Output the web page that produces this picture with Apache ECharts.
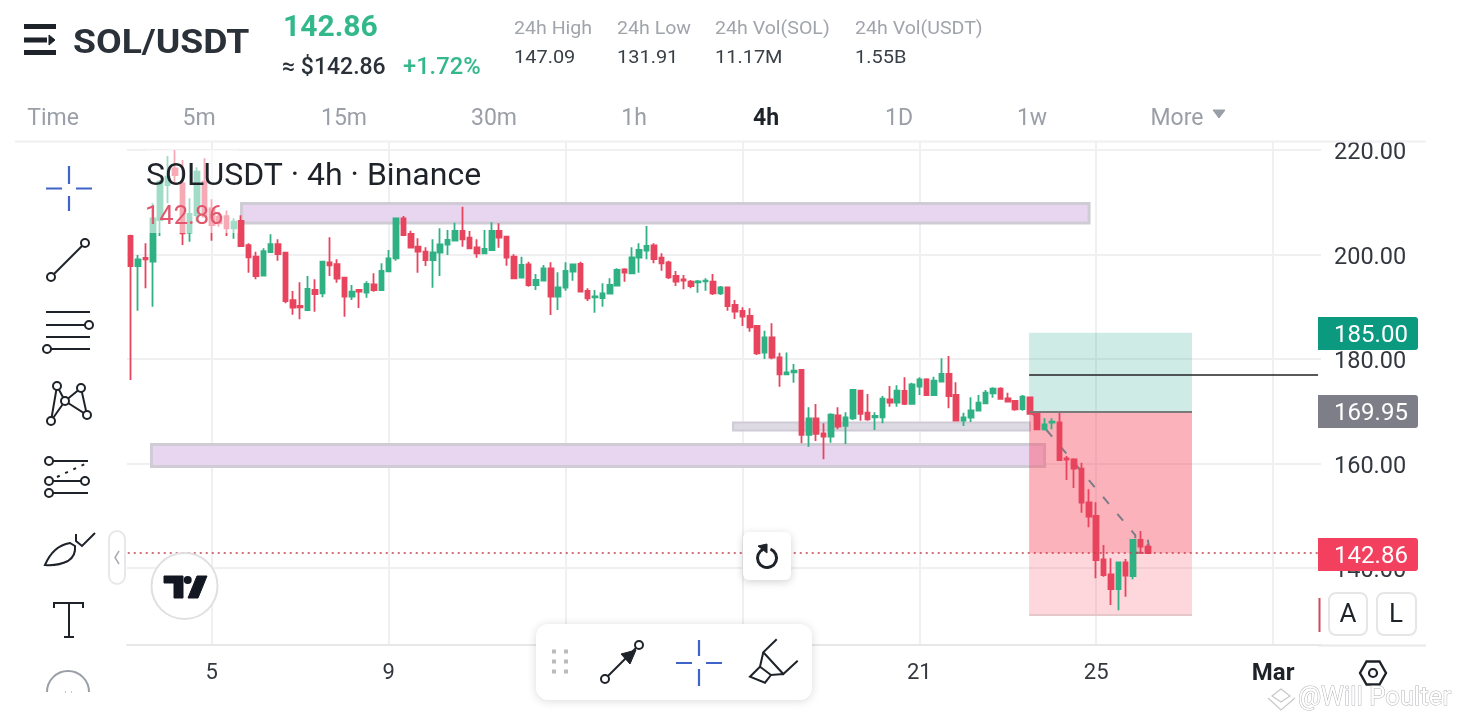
<!DOCTYPE html>
<html>
<head>
<meta charset="utf-8">
<title>SOL/USDT</title>
<script src="https://cdn.jsdelivr.net/npm/echarts@6/dist/echarts.min.js"></script>
<style>
html, body { margin: 0; padding: 0; background: #fff; }
#main { width: 1462px; height: 720px; }
</style>
</head>
<body>
<div id="main"></div>
<script>
// 4h candles
var opens = [203.54,197.79,199.33,198.62,206.6,213.3,216.49,213.62,204.17,207.55,
    213.93,208.83,207.24,207.36,205,206.41,201.81,199.58,195.94,200.47,
    202,200.35,191.28,190.14,189.37,193.2,192.56,198.5,198.17,195.56,
    191.92,193.2,192.69,194.28,193.2,196.77,199.26,206.92,203.92,201.49,
    200.54,198.94,200.35,201.88,202.65,204.5,203.22,201.37,200.22,200.86,
    204.5,203.41,199.58,195.56,198.12,194.16,194.99,197.35,191.93,193.65,
    196.71,198.18,193.01,191.8,191.67,192.5,194.03,197.16,196.39,199.39,
    200.73,201.75,199.39,198.5,195.88,195.25,194.8,194.67,194.86,194.8,
    192.57,193.71,190.33,189.18,188.23,186.31,181.21,184.14,180.32,177.07,
    177.45,177.9,165.46,168.65,165.78,165.14,169.22,167.18,168.65,173.94,
    169.73,168.84,168.84,172.28,171.63,173.88,171.39,174.71,176.11,173.11,
    175.67,177.13,173.11,168.2,168.77,170.11,171.52,173.43,174.33,172.48,
    171.96,170.43,172.67,169.48,166.54,167.82,167.88,160.99,160.8,159,
    152.57,149.95,141.66,138.79,135.98,141.09,138.47,145.36,144.08];
var closes = [197.79,199.07,199.07,206.92,213.93,214.89,215.2,204.05,207.75,215.85,
    207.24,205.64,205.96,205,206.28,201.62,199.45,195.88,200.66,202,
    200.09,191.09,189.82,189.88,193.39,192.43,198.62,197.92,195.37,191.92,
    192.88,192.88,194.35,193.2,196.84,199.26,206.92,203.73,201.3,200.54,
    198.94,200.41,201.94,202.77,204.5,202.9,201.18,200.22,201.05,204.5,
    203.22,199.39,195.44,197.99,194.16,195.12,197.35,191.93,193.71,196.84,
    198.12,192.88,191.61,192,192.57,194.16,197.03,196.52,199.46,200.86,
    201.63,199.14,198.31,195.63,194.8,194.99,193.97,194.86,194.99,192.57,
    193.71,190.14,189.06,188.1,186.06,181.08,184.14,180.25,177.06,177.45,
    177.77,165.46,168.65,165.65,165.14,169.35,167.05,168.84,174.07,169.48,
    168.46,169.09,172.41,171.63,173.94,171.39,175.15,176.11,173.11,175.86,
    177.13,172.92,168.2,168.84,170.18,171.65,173.56,174.33,172.35,171.84,
    170.37,172.79,169.48,166.54,167.5,168,160.67,160.74,159,152.51,
    149.83,141.53,138.66,135.98,141.09,138.53,145.36,144.08,142.86];
var lows = [175.97,189.24,193.52,190.01,203.54,209.79,213.6,201.81,202.45,206.28,
    207.1,202.64,205.3,203.54,203.02,201.49,196.52,195.24,195.94,200.35,
    198.81,190.65,188.48,187.59,189.24,189.05,191.8,195.88,194.6,188.1,
    191.29,189.75,191.73,192.88,193.2,196.71,198.81,203.73,201.3,196.52,
    197.79,193.65,195.88,199.9,202.65,201.5,201.05,199.39,200.03,200.86,
    201.31,197.86,195.25,195.56,193.84,193.2,194.99,188.42,189.38,193.08,
    194.99,192.88,191.1,188.87,190.01,192.5,194.03,194.8,196.27,196.52,
    199.07,198.31,196.9,195.31,193.97,193.33,193.52,192.69,193.08,192.25,
    192.25,189.25,187.65,186.33,185.23,180.76,180,179.93,174.7,177.07,
    175.47,163.86,163.22,164.31,160.8,163.99,166.54,163.73,168.33,168.2,
    168.2,166.41,167.69,170.88,170.88,171.2,171.26,173.11,172.92,173.11,
    175.67,170.56,168.2,167.18,167.95,170.11,171.39,172.6,172.28,171.77,
    170.11,170.11,169.35,166.54,166.29,166.54,160.54,156.84,155.31,150.59,
    147.78,138.02,138.34,132.92,131.91,134.51,137.83,142.68,142.8];
var highs = [203.8,199.9,202.13,209.79,214.25,218.85,220,218.08,210.75,216.68,
    218.4,210.55,208.2,208.4,206.92,207.49,202.13,200.54,201.18,203.85,
    202.9,200.54,193,194.67,195.88,195.24,198.75,203.28,199.07,195.75,
    194.16,193.33,194.86,196.39,198.3,200.86,207,207.36,204.56,203.09,
    201.37,202.9,205,204.68,206.09,209.15,204.5,202.9,204.69,206.16,
    205.96,203.41,200.03,199.58,198.63,196.27,197.99,198.5,196.59,198.5,
    198.12,198.63,193.52,193.2,194.48,195.44,197.35,197.35,201.37,202.14,
    205.45,202.14,200.22,198.82,196.84,196.07,195.12,195.12,195.44,196.27,
    193.97,193.71,191.29,189.89,189.69,186.51,185.42,186.82,181.21,181.22,
    179.05,177.9,170.75,171.39,167.69,169.6,170.75,169.8,174.2,174.07,
    173.3,169.8,172.92,174.84,174.96,176.49,175.47,176.49,176.3,176.62,
    180.13,180.58,175.54,169.73,172.67,173.11,174.07,174.58,174.58,173.56,
    172.16,173.11,172.79,169.6,168.65,168.65,169.92,161.44,160.99,160.16,
    155.06,152.57,144.4,141.85,141.09,141.72,145.36,147.09,144.53];

var tickIndex = [11, 35, 59, 83, 107, 131, 155];
var tickNames = ['5', '9', '13', '17', '21', '25', 'Mar'];
var priceTicks = [140, 160, 180, 200, 220];

// drawings: x in candle index (fractions allowed), y in price
var topZone = [15.04, 130.03, 209.76, 206.03];
var lowZone = [2.82, 124, 163.64, 159.43];
var midZone = [81.73, 122.03, 167.85, 166.32];
var boxLeft = 121.9, boxRight = 144;
var targetPrice = 185, entryPrice = 169.95, lastPrice = 142.86, stopPrice = 131;
var blackLinePrice = 176.94;
var dashX = [122.3, 136.3, 136.3, 138.3, 138];
var dashY = [169.67, 146.3, 142.9, 142.9, 145.4];

var tabLabels = ['Time', '5m', '15m', '30m', '1h', '4h', '1D', '1w', 'More'];
var statLabels = ['24h High', '24h Low', '24h Vol(SOL)', '24h Vol(USDT)'];
var statValues = ['147.09', '131.91', '11.17M', '1.55B'];

var UP = '#2fb184', DOWN = '#e8445e', FONT = 'Roboto, sans-serif';
var N = 162;

var categories = [];
for (var i = 0; i < N; i++) {
    var d = new Date(Date.UTC(2025, 1, 3, 4 + i * 4));
    categories.push(d.toISOString().slice(5, 16).replace('T', ' '));
}
var candles = opens.map(function (o, k) { return [o, closes[k], lows[k], highs[k]]; });
var dashData = dashX.map(function (x, k) { return [x, dashY[k]]; });

function zone(z, fill, border, bw) {
    return [{ coord: [z[0], z[2]], itemStyle: { color: fill, borderColor: border, borderWidth: bw } }, { coord: [z[1], z[3]] }];
}
function hline(x0, x1, y, color, width, type) {
    return [{ coord: [x0, y], lineStyle: { color: color, width: width, type: type || 'solid' } }, { coord: [x1, y] }];
}

// page furniture
var g = [];
var shapeCount = 0;
// wide stretches the glyphs sideways, the reference font is wider than Roboto
function txt(x, y, s, size, color, weight, align, extra, wide) {
    var st = { x: 0, y: 0, text: s, fontSize: size, fontFamily: FONT, fill: color, fontWeight: weight || 'normal', textAlign: align || 'left', textVerticalAlign: 'middle' };
    for (var k in (extra || {})) st[k] = extra[k];
    g.push({ type: 'text', z: 120, silent: true, x: x, y: y, scaleX: wide || 1, style: st });
}
// graphic has no plain path type, so each icon path gets registered as its own shape
function stroke(path, color, width, fill, z, dash) {
    var name = 'iconPath' + (shapeCount++);
    echarts.graphic.registerShape(name, echarts.graphic.extendPath(path, {}));
    var st = { stroke: color || '#1e2329', lineWidth: width || 2, fill: fill || 'none' };
    if (dash) st.lineDash = dash;
    g.push({ type: name, z: z || 120, silent: true, style: st });
}
function ring(x, y, r, color, width) {
    g.push({ type: 'circle', z: 120, silent: true, shape: { cx: x, cy: y, r: r }, style: { stroke: color || '#1e2329', lineWidth: width || 2, fill: '#fff' } });
}
function box(x, y, w, h, r, fill, line, extra, z) {
    var st = { fill: fill, stroke: line || 'none', lineWidth: line ? 2 : 0 };
    for (var k in (extra || {})) st[k] = extra[k];
    g.push({ type: 'rect', z: z || 110, silent: true, shape: { x: x, y: y, width: w, height: h, r: r }, style: st });
}

// fade behind the chart title
box(146, 150, 92, 83, 0, 'rgba(255,255,255,0.55)', null, null, 50);
txt(146, 177, 'SOLUSDT · 4h · Binance', 32, '#1e2329');
txt(145, 218, '142.86', 25.5, '#e2566c');

// header
stroke('M24 26.5H56M24 40H47M24 52.5H56', '#1e2329', 5);
stroke('M49 35L55 40L49 45Z', '#1e2329', 1, '#1e2329');
txt(73, 45, 'SOL/USDT', 33, '#2b3139', '700', 'left', null, 1.13);
txt(283, 28, '142.86', 30, '#33b88c', '700');
txt(282, 68, '≈ $142.86', 23, '#2b3139', '500');
txt(403, 68, '+1.72%', 23, '#33b88c', '500', 'left', null, 1.03);
var statX = [514, 617, 715, 855];
statLabels.forEach(function (s, k) {
    txt(statX[k], 29, s, 19, '#a0a4ab', 'normal', 'left', null, 1.03);
    txt(statX[k], 58, statValues[k], 19, '#3a4048', 'normal', 'left', null, 1.05);
});
var tabX = [53, 199, 344, 494, 634, 766, 899, 1032, 1177];
tabLabels.forEach(function (s, k) {
    txt(tabX[k], 119, s, 23, s == '4h' ? '#1e2329' : '#9a9ea6', s == '4h' ? '700' : 'normal', 'center');
});
stroke('M1213 110H1225L1219 118Z', '#9a9ea6', 1, '#9a9ea6');
stroke('M15 141.5H1426', '#f0f0f2', 2, 'none', 5);
stroke('M1318 645.5H1426', '#e8e8ea', 2, 'none', 5);

// left tools
var BLUE = '#3f63c8';
stroke('M46 188.5H62M76 188.5H92M69 166V184M69 196V211', BLUE, 2.2);
stroke('M51 277L85 243', null, 2); ring(51, 277, 4); ring(85, 243, 4);
stroke('M46 312H90M46 325H85M46 337H90M51 349H90', null, 2); ring(89, 325, 4); ring(47, 349, 4);
stroke('M51 421L57 386L65 401L51 421M65 401L81 388L87 415L65 401', null, 2);
ring(57, 386, 4); ring(81, 388, 4); ring(65, 401, 4); ring(87, 415, 4); ring(51, 421, 4);
stroke('M49 461H88M49 481H85M49 493H88', null, 2);
stroke('M57 477L85 464', null, 2, 'none', 120, [3, 6]);
ring(49, 461, 4); ring(49, 481, 4); ring(85, 481, 4); ring(49, 493, 4);
stroke('M45 565Q53 546 70 543L75 546Q76 556 68 561Q58 566 45 565Z', null, 2);
stroke('M76 534V541L82 546L95 533', null, 2);
stroke('M54 608V603H83V608M69 603V637M64 637H74', null, 2);
g.push({ type: 'arc', z: 120, silent: true, shape: { cx: 68, cy: 692, r: 21, startAngle: Math.PI, endAngle: 0 }, style: { stroke: '#9a9ea6', lineWidth: 2, fill: 'none' } });
stroke('M65 692H66M71 692H72', '#c4c6cb', 2);
box(109, 531, 16, 53, 8, '#fff', '#e8e8ea');
stroke('M119 551L115 557.5L119 564', '#a8abb2', 1.5);

// TradingView badge
g.push({ type: 'circle', z: 110, silent: true, shape: { cx: 184.5, cy: 586, r: 33 }, style: { fill: '#fff', stroke: '#e0e0e3', lineWidth: 2 } });
stroke('M164 576H183V598H174V583H164Z', '#131722', 1, '#131722');
g.push({ type: 'circle', z: 120, silent: true, shape: { cx: 187.7, cy: 580, r: 4 }, style: { fill: '#131722' } });
stroke('M197 576H207L198 598H188Z', '#131722', 1, '#131722');

// rotate button
box(743, 532, 48, 48, 6, '#fff', null, { shadowBlur: 8, shadowColor: 'rgba(0,0,0,0.18)', shadowOffsetY: 2 });
g.push({ type: 'arc', z: 120, silent: true, shape: { cx: 767, cy: 558, r: 9.5, startAngle: -1.2, endAngle: -2.0, clockwise: true }, style: { stroke: '#1e2329', lineWidth: 3, fill: 'none' } });
stroke('M758 546L767 544L767 553Z', '#1e2329', 1, '#1e2329');

// bottom toolbar
box(536, 624, 276, 76, 12, '#fff', null, { shadowBlur: 10, shadowColor: 'rgba(0,0,0,0.15)', shadowOffsetY: 1 });
stroke('M552 651.5h4M564 651.5h4M552 661.5h4M564 661.5h4M552 671.5h4M564 671.5h4', '#b8bbc0', 4);
stroke('M605 679L639 645', null, 2); ring(605, 679, 4); ring(639, 645, 4);
stroke('M621 654L636 650L630 664Z', '#1e2329', 1, '#1e2329');
stroke('M676 663H692M706 663H722M699 640V656M699 669V686', BLUE, 2.2);
stroke('M776.7 639.3L763.3 652.3L783.3 674L797.7 660.7M763.3 652.3L760 666.7L771 675L783.3 674M760 666.7L750 676.7L765 682.7L771 675', null, 2);

// price tags
var tags = [['185.00', 317, '#0b9a80'], ['169.95', 395, '#7d7e88'], ['142.86', 538, '#f2405e']];
tags.forEach(function (t) {
    box(1318, t[1], 100, 33, [0, 3, 3, 0], t[2]);
    txt(1371, t[1] + 19, t[0], 24, '#fff', 'normal', 'center');
});
box(1318.5, 598, 2, 34, 0, '#d04a5f');
box(1329, 593, 38, 42, 7, '#fff', '#e6e6e8');
box(1377, 593, 39, 42, 7, '#fff', '#e6e6e8');
txt(1348, 615, 'A', 26, '#1e2329', 'normal', 'center');
txt(1396, 615, 'L', 26, '#1e2329', 'normal', 'center');
stroke('M1360 673L1366.5 661.5H1379.5L1386 673L1379.5 684.5H1366.5Z', '#1e2329', 2.4);
ring(1373, 673, 4, '#1e2329', 2.2);

// watermark
stroke('M1281 689L1290 696L1281 702L1272 696ZM1268 698L1281 710L1295 698', '#c8c8cc', 1.2, 'none');
txt(1298, 699, '@Will Poulter', 25, '#fff', 'normal', 'left', { stroke: '#b4b4b8', lineWidth: 1 }, 1.03);

var chart = echarts.init(document.getElementById('main'));
chart.setOption({
    animation: false,
    backgroundColor: '#fff',
    textStyle: { fontFamily: FONT },
    grid: { left: 127, top: 141, width: 1194, height: 504 },
    xAxis: [
        {
            type: 'category',
            data: categories,
            axisLine: { lineStyle: { color: '#e8e8ea', width: 2 } },
            axisTick: { show: false },
            axisLabel: {
                margin: 17,
                fontSize: 22,
                color: '#33383f',
                interval: function (idx) { return tickIndex.indexOf(idx) >= 0; },
                formatter: function (v, idx) {
                    var s = tickNames[tickIndex.indexOf(idx)];
                    return s == 'Mar' ? '{b|Mar}' : s;
                },
                rich: { b: { fontSize: 24, fontWeight: 'bold', color: '#1e2329', fontFamily: FONT } }
            },
            splitLine: {
                show: true,
                alignWithLabel: true,
                interval: function (idx) { return tickIndex.indexOf(idx) >= 0; },
                lineStyle: { color: '#f0f0f3', width: 2 }
            }
        },
        { type: 'value', min: -0.5, max: N - 0.5, show: false }
    ],
    yAxis: {
        type: 'value',
        position: 'right',
        min: 125.26,
        max: 221.72,
        scale: true,
        axisLine: { show: false },
        axisTick: { show: false, customValues: priceTicks },
        axisLabel: {
            customValues: priceTicks,
            margin: 13,
            fontSize: 23.5,
            color: '#333840',
            // top + small lineHeight drops the text a couple of px under the grid line
            verticalAlign: 'top',
            lineHeight: 7,
            formatter: function (v) { return v.toFixed(2); }
        },
        splitLine: { lineStyle: { color: '#f0f0f3', width: 2 } }
    },
    series: [
        {
            type: 'candlestick',
            data: candles,
            barWidth: 5,
            z: 3,
            itemStyle: { color: UP, color0: DOWN, borderColor: UP, borderColor0: DOWN, borderWidth: 1.8 }
        },
        {
            type: 'line',
            xAxisIndex: 1,
            data: dashData,
            z: 2,
            symbol: 'none',
            silent: true,
            lineStyle: { color: '#7c7c86', width: 2, type: [9, 13] },
            markArea: {
                silent: true,
                z: 1,
                data: [
                    zone(topZone, '#e8d5f0', '#d0ccd6', 3),
                    zone(lowZone, '#e8d5f0', '#d0ccd6', 3),
                    zone(midZone, '#dedae3', '#cfcbd6', 2),
                    [{ coord: [boxLeft, targetPrice], itemStyle: { color: 'rgba(8,153,129,0.2)' } }, { coord: [boxRight, entryPrice] }],
                    [{ coord: [boxLeft, entryPrice], itemStyle: { color: 'rgba(247,72,92,0.42)' } }, { coord: [boxRight, lastPrice] }],
                    [{ coord: [boxLeft, lastPrice], itemStyle: { color: 'rgba(247,72,92,0.22)' } }, { coord: [boxRight, stopPrice] }]
                ]
            },
            markLine: {
                silent: true,
                symbol: 'none',
                label: { show: false },
                z: 5,
                data: [
                    hline(boxLeft, 161.1, blackLinePrice, '#222', 1.5),
                    hline(boxLeft, boxRight, entryPrice, '#7a7a7a', 2),
                    hline(boxLeft, boxRight, stopPrice, '#e6c8cc', 2),
                    hline(-0.4, 161.1, lastPrice, '#c9404f', 1.5, [2, 4])
                ]
            }
        }
    ],
    graphic: { elements: g }
});
</script>
</body>
</html>
